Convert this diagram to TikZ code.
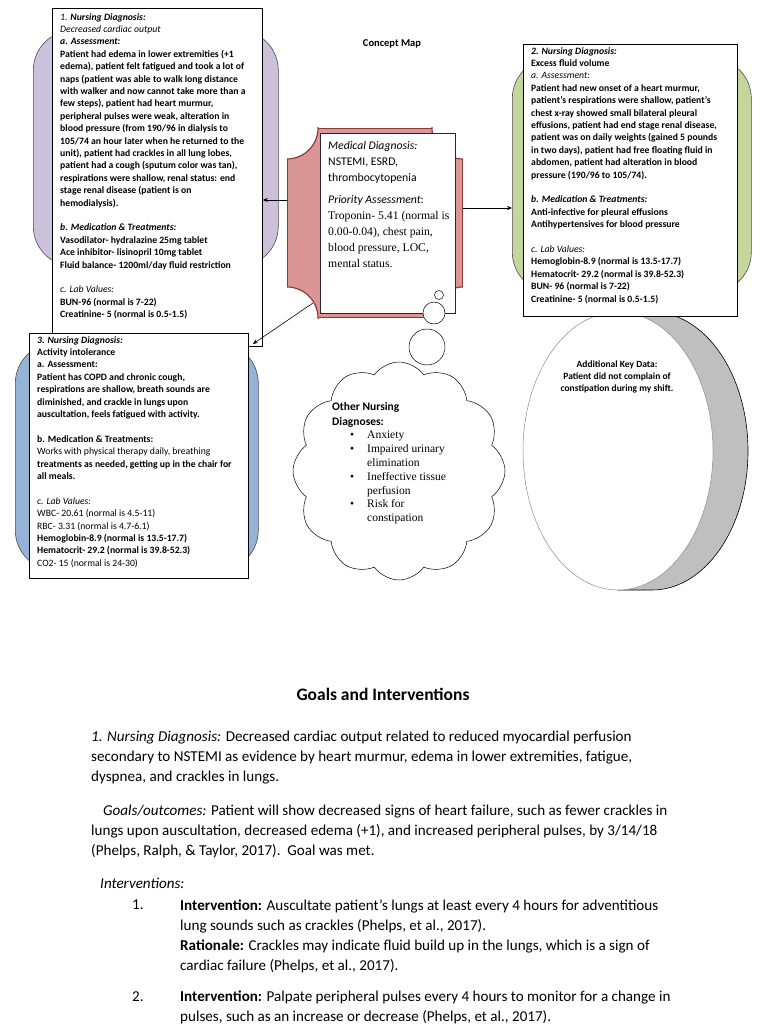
\documentclass[tikz,border=0pt]{standalone}
\usepackage{fontspec}
\setmainfont{Carlito}
\newfontfamily\tnr{Liberation Serif}
\usetikzlibrary{shapes.symbols,arrows.meta}
\definecolor{lav}{HTML}{CCC1DA}
\definecolor{oliv}{HTML}{C3D69B}
\definecolor{skyb}{HTML}{95B3D7}
\definecolor{rosy}{HTML}{D99694}
\definecolor{rosyline}{HTML}{8C3B3B}
\definecolor{cylgrey}{HTML}{BFBFBF}
\begin{document}
\begin{tikzpicture}[x=1pt,y=-1pt,
  bgbox/.style={draw=black!70, line width=0.6pt, rounded corners=40pt, anchor=north west, inner sep=0pt},
  wbox/.style={draw=black, line width=0.8pt, fill=white, inner sep=0pt, anchor=north west},
  boxtext/.style={anchor=north west, inner sep=0pt, align=left, font=\fontsize{9.7}{12.4}\selectfont},
  bodytext/.style={anchor=north west, inner sep=0pt, align=left, font=\fontsize{15.1}{20}\selectfont},
  thought/.style={circle, draw=black, line width=0.5pt, fill=white, inner sep=0pt},
  plqline/.style={draw=rosyline, line width=1.2pt},
  arr/.style={-{Stealth[length=5pt,width=4pt]}, line width=0.6pt}]
\useasboundingbox (0,0) rectangle (768,1024);
\fill[white] (0,0) rectangle (768,1024);

% title
\node[font=\fontsize{10.5}{12}\selectfont\bfseries] (title) at (392,44) {Concept Map};

% box 1
\node[bgbox, fill=lav, minimum width=245, minimum height=236] (purplebg) at (33,30) {};
\node[wbox, minimum width=210, minimum height=338] (box1) at (52,8) {};
\node[boxtext] (t1) at (60,13) {\textit{1. \textbf{Nursing Diagnosis:}}\\
\textit{Decreased cardiac output}\\
\textbf{\textit{a. Assessment:}}\\
\textbf{Patient had edema in lower extremities (+1}\\
\textbf{edema), patient felt fatigued and took a lot of}\\
\textbf{naps (patient was able to walk long distance}\\
\textbf{with walker and now cannot take more than a}\\
\textbf{few steps), patient had heart murmur,}\\
\textbf{peripheral pulses were weak, alteration in}\\
\textbf{blood pressure (from 190/96 in dialysis to}\\
\textbf{105/74 an hour later when he returned to the}\\
\textbf{unit), patient had crackles in all lung lobes,}\\
\textbf{patient had a cough (sputum color was tan),}\\
\textbf{respirations were shallow, renal status: end}\\
\textbf{stage renal disease (patient is on}\\
\textbf{hemodialysis).}\\[12.4pt]
\textbf{\textit{b. Medication \& Treatments:}}\\
\textbf{Vasodilator- hydralazine 25mg tablet}\\
\textbf{Ace inhibitor- lisinopril 10mg tablet}\\
\textbf{Fluid balance- 1200ml/day fluid restriction}\\[12.4pt]
\textit{c. Lab Values:}\\
\textbf{BUN-96 (normal is 7-22)}\\
\textbf{Creatinine- 5 (normal is 0.5-1.5)}};

% box 3
\node[bgbox, fill=skyb, minimum width=243, minimum height=227] (bluebg) at (15,343) {};
\node[wbox, minimum width=219, minimum height=245] (box3) at (29,333) {};
\node[boxtext] (t3) at (37,336) {\textbf{\textit{3. Nursing Diagnosis:}}\\
\textbf{Activity intolerance}\\
\textbf{a. Assessment:}\\
\textbf{Patient has COPD and chronic cough,}\\
\textbf{respirations are shallow, breath sounds are}\\
\textbf{diminished, and crackle in lungs upon}\\
\textbf{auscultation, feels fatigued with activity.}\\[12.4pt]
\textbf{b. Medication \& Treatments:}\\
Works with physical therapy daily, breathing\\
\textbf{treatments as needed, getting up in the chair for}\\
\textbf{all meals.}\\[12.4pt]
\textit{c. Lab Values:}\\
WBC- 20.61 (normal is 4.5-11)\\
RBC- 3.31 (normal is 4.7-6.1)\\
\textbf{Hemoglobin-8.9 (normal is 13.5-17.7)}\\
\textbf{Hematocrit- 29.2 (normal is 39.8-52.3)}\\
CO2- 15 (normal is 24-30)};

% additional key data cylinder
\path[fill=cylgrey, draw=black, line width=0.6pt] (618,312) -- (652,312)
  arc[start angle=-90, end angle=90, x radius=96, y radius=139] -- (618,590) -- cycle;
\draw[fill=white, draw=black!45, line width=0.5pt] (618,451) ellipse [x radius=95, y radius=139];
\node[align=center, inner sep=0pt, font=\fontsize{9.5}{12.4}\selectfont] (keydata) at (617,377)
  {\textbf{Additional Key Data:}\\ \textbf{Patient did not complain of}\\ \textbf{constipation during my shift.}};

% box 2
\node[bgbox, fill=oliv, minimum width=239, minimum height=234] (greenbg) at (512,58) {};
\node[wbox, minimum width=214, minimum height=272] (box2) at (523,44) {};
\node[boxtext] (t2) at (531,47) {\textbf{\textit{2. Nursing Diagnosis:}}\\
\textbf{Excess fluid volume}\\
\textit{a. Assessment:}\\
\textbf{Patient had new onset of a heart murmur,}\\
\textbf{patient's respirations were shallow, patient's}\\
\textbf{chest x-ray showed small bilateral pleural}\\
\textbf{effusions, patient had end stage renal disease,}\\
\textbf{patient was on daily weights (gained 5 pounds}\\
\textbf{in two days), patient had free floating fluid in}\\
\textbf{abdomen, patient had alteration in blood}\\
\textbf{pressure (190/96 to 105/74).}\\[12.4pt]
\textbf{\textit{b. Medication \& Treatments:}}\\
\textbf{Anti-infective for pleural effusions}\\
\textbf{Antihypertensives for blood pressure}\\[12.4pt]
\textit{c. Lab Values:}\\
\textbf{Hemoglobin-8.9 (normal is 13.5-17.7)}\\
\textbf{Hematocrit- 29.2 (normal is 39.8-52.3)}\\
\textbf{BUN- 96 (normal is 7-22)}\\
\textbf{Creatinine- 5 (normal is 0.5-1.5)}};

% medical diagnosis plaque: rectangle with concave (cut-out) corners
\begin{scope}
  \clip (287,128) rectangle (463,318);
  \fill[rosy] (287,128) rectangle (463,318);
  \foreach \cx/\cy in {287/128, 463/128, 287/318, 463/318}
    \draw[plqline, fill=white] (\cx,\cy) circle[radius=31];
\end{scope}
\draw[plqline] (318,128.5) -- (432,128.5);
\draw[plqline] (462.5,159) -- (462.5,287);
\draw[plqline] (432,317.5) -- (318,317.5);
\draw[plqline] (287.5,287) -- (287.5,159);
\coordinate (plqW) at (287,200);
\coordinate (plqE) at (463,208);
\coordinate (plqSW) at (313,303);
\node[draw=black!85, line width=1pt, fill=white, anchor=north west, minimum width=135, minimum height=180, inner sep=0pt] (medbox) at (320,133) {};
\node[anchor=north west, inner sep=0pt, align=left, font=\fontsize{11.7}{16}\selectfont] (medtext) at (328,141)
  {\textit{Medical Diagnosis:}\\ NSTEMI, ESRD,\\ thrombocytopenia\\[6pt]
   \textit{Priority Assessment}:\\ {\tnr Troponin- 5.41 (normal is}\\ {\tnr 0.00-0.04), chest pain,}\\
   {\tnr blood pressure, LOC,}\\ {\tnr mental status.}};

% thought bubbles and cloud
\node[thought, minimum size=9] (th1) at (439,295) {};
\node[thought, minimum size=22] (th2) at (434,313) {};
\node[thought, minimum size=36] (th3) at (427,347) {};
\node[cloud, cloud puffs=12, cloud puff arc=110, cloud ignores aspect, draw=black, line width=0.5pt, fill=white,
      minimum width=212, minimum height=218, inner sep=0pt] (cloud) at (399,471) {};
\node[anchor=north west, inner sep=0pt, align=left, font=\fontsize{11.5}{15}\selectfont\bfseries] (cloudhead) at (332,402)
  {Other Nursing\\ Diagnoses:};
\node[anchor=north west, inner sep=0pt, align=left, font=\fontsize{11.5}{13.8}\tnr] (cloudlist) at (350,431)
  {\makebox[17pt][l]{\textbullet}Anxiety\\
   \makebox[17pt][l]{\textbullet}Impaired urinary\\
   \hspace*{17pt}elimination\\
   \makebox[17pt][l]{\textbullet}Ineffective tissue\\
   \hspace*{17pt}perfusion\\
   \makebox[17pt][l]{\textbullet}Risk for\\
   \hspace*{17pt}constipation};

% connectors
\draw[arr] (plqW) -- (box1.east |- plqW);
\draw[arr] (plqE) -- (greenbg.west |- plqE);
\draw[arr] (plqSW) -- ([shift={(4,11)}]box3.north east);

% goals and interventions
\node[font=\fontsize{17.5}{20}\selectfont\bfseries] (goals) at (383,694) {Goals and Interventions};
\node[bodytext] (nd1) at (91,731) {\textit{1. Nursing Diagnosis:} Decreased cardiac output related to reduced myocardial perfusion\\
secondary to NSTEMI as evidence by heart murmur, edema in lower extremities, fatigue,\\
dyspnea, and crackles in lungs.};
\node[bodytext] (outc) at (91,805) {\hspace*{12pt}\textit{Goals/outcomes:} Patient will show decreased signs of heart failure, such as fewer crackles in\\
lungs upon auscultation, decreased edema (+1), and increased peripheral pulses, by 3/14/18\\
(Phelps, Ralph, \& Taylor, 2017).\ \ Goal was met.};
\node[bodytext] (intv) at (100,878) {\textit{Interventions:}};
\node[bodytext] (n1) at (132,900) {1.};
\node[bodytext] (i1) at (180,900) {\textbf{Intervention:} Auscultate patient’s lungs at least every 4 hours for adventitious\\
lung sounds such as crackles (Phelps, et al., 2017).\\
\textbf{Rationale:} Crackles may indicate fluid build up in the lungs, which is a sign of\\
cardiac failure (Phelps, et al., 2017).};
\node[bodytext] (n2) at (132,991) {2.};
\node[bodytext] (i2) at (180,991) {\textbf{Intervention:} Palpate peripheral pulses every 4 hours to monitor for a change in\\
pulses, such as an increase or decrease (Phelps, et al., 2017).};
\end{tikzpicture}
\end{document}
